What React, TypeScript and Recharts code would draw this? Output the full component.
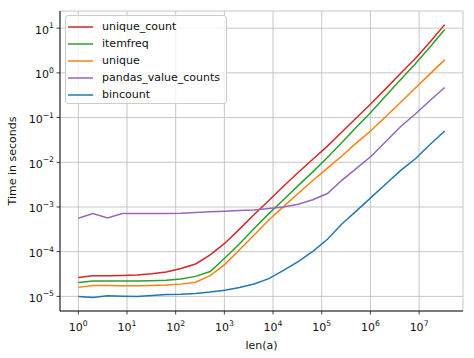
import {
  LineChart,
  Line,
  XAxis,
  YAxis,
  CartesianGrid,
  Legend,
} from "recharts";

// len(a) — powers of two
const lengths = [
  1, 2, 4, 8, 16, 32, 64, 128, 256, 512, 1024, 2048, 4096, 8192, 16384, 32768,
  65536, 131072, 262144, 524288, 1048576, 2097152, 4194304, 8388608, 16777216,
  33554432,
];

// time in seconds
const uniqueCount = [
  2.65e-5, 2.9e-5, 2.9e-5, 2.95e-5, 3.0e-5, 3.2e-5, 3.5e-5, 4.2e-5, 5.3e-5,
  8.5e-5, 1.55e-4, 3.2e-4, 6.8e-4, 1.4e-3, 2.9e-3, 5.9e-3, 0.0117, 0.023,
  0.048, 0.1, 0.21, 0.45, 0.98, 2.1, 4.9, 12.0,
];
const itemfreq = [
  2.05e-5, 2.2e-5, 2.2e-5, 2.2e-5, 2.2e-5, 2.25e-5, 2.3e-5, 2.45e-5, 2.8e-5,
  3.6e-5, 7.2e-5, 1.5e-4, 3.3e-4, 7.1e-4, 1.45e-3, 3.0e-3, 6.1e-3, 0.0128,
  0.028, 0.062, 0.135, 0.31, 0.71, 1.6, 3.8, 9.3,
];
const unique = [
  1.59e-5, 1.75e-5, 1.75e-5, 1.74e-5, 1.74e-5, 1.76e-5, 1.8e-5, 1.88e-5,
  2.08e-5, 2.9e-5, 5.2e-5, 1.1e-4, 2.35e-4, 5.1e-4, 1.02e-3, 2.0e-3, 3.9e-3,
  7.4e-3, 0.014, 0.0275, 0.052, 0.107, 0.22, 0.46, 0.95, 1.95,
];
const pandasValueCounts = [
  5.6e-4, 7.1e-4, 5.7e-4, 7.1e-4, 7.1e-4, 7.1e-4, 7.15e-4, 7.2e-4, 7.5e-4,
  7.8e-4, 8.0e-4, 8.3e-4, 8.6e-4, 9.2e-4, 1.0e-3, 1.15e-3, 1.45e-3, 2.0e-3,
  4.0e-3, 7.4e-3, 0.0138, 0.0295, 0.063, 0.12, 0.24, 0.47,
];
const bincount = [
  1.0e-5, 9.5e-6, 1.03e-5, 1.01e-5, 1.0e-5, 1.05e-5, 1.1e-5, 1.12e-5, 1.16e-5,
  1.25e-5, 1.37e-5, 1.58e-5, 1.9e-5, 2.5e-5, 3.8e-5, 6.0e-5, 1.02e-4, 1.9e-4,
  4.2e-4, 8.3e-4, 1.66e-3, 3.3e-3, 6.6e-3, 0.012, 0.025, 0.05,
];

const xMajor = [1, 10, 100, 1e3, 1e4, 1e5, 1e6, 1e7];
const xMinor = [
  0.5, 0.6, 0.7, 0.8, 0.9, 2, 3, 4, 5, 6, 7, 8, 9, 20, 30, 40, 50, 60, 70, 80,
  90, 200, 300, 400, 500, 600, 700, 800, 900, 2e3, 3e3, 4e3, 5e3, 6e3, 7e3,
  8e3, 9e3, 2e4, 3e4, 4e4, 5e4, 6e4, 7e4, 8e4, 9e4, 2e5, 3e5, 4e5, 5e5, 6e5,
  7e5, 8e5, 9e5, 2e6, 3e6, 4e6, 5e6, 6e6, 7e6, 8e6, 9e6, 2e7, 3e7, 4e7, 5e7,
  6e7, 7e7,
];
const yMajor = [1e-5, 1e-4, 1e-3, 1e-2, 1e-1, 1, 10];
const yMinor = [
  5e-6, 6e-6, 7e-6, 8e-6, 9e-6, 2e-5, 3e-5, 4e-5, 5e-5, 6e-5, 7e-5, 8e-5, 9e-5,
  2e-4, 3e-4, 4e-4, 5e-4, 6e-4, 7e-4, 8e-4, 9e-4, 2e-3, 3e-3, 4e-3, 5e-3, 6e-3,
  7e-3, 8e-3, 9e-3, 0.02, 0.03, 0.04, 0.05, 0.06, 0.07, 0.08, 0.09, 0.2, 0.3,
  0.4, 0.5, 0.6, 0.7, 0.8, 0.9, 2, 3, 4, 5, 6, 7, 8, 9, 20,
];

const xDomain = [0.4205, 7.98e7];
const yDomain = [4.71e-6, 24.2];

const series = [
  { key: "unique_count", values: uniqueCount, color: "#d62728" },
  { key: "itemfreq", values: itemfreq, color: "#2ca02c" },
  { key: "unique", values: unique, color: "#ff7f0e" },
  { key: "pandas_value_counts", values: pandasValueCounts, color: "#9467bd" },
  { key: "bincount", values: bincount, color: "#1f77b4" },
];
const seriesOrder = series.map((s) => s.key);

const data = lengths.map((n, i) => {
  const row: Record<string, number> = { n };
  series.forEach((s) => (row[s.key] = s.values[i]));
  return row;
});

const FONT = "DejaVu Sans, sans-serif";
const INK = "#111";

function expText(v: number) {
  const e = Math.round(Math.log10(v));
  return e < 0 ? "\u2212" + -e : String(e);
}

function XTick(props: any) {
  const { x, y, payload } = props;
  return (
    <g>
      <line x1={x} x2={x} y1={y} y2={y + 3.5} stroke={INK} strokeWidth={0.8} />
      <text x={x} y={y + 20} textAnchor="middle" fontSize={11} fontFamily={FONT} fill={INK}>
        <tspan>10</tspan>
        <tspan dy={-5.5} fontSize={7.7}>{expText(payload.value)}</tspan>
      </text>
    </g>
  );
}

function YTick(props: any) {
  const { x, y, payload } = props;
  return (
    <g>
      <line x1={x} x2={x - 3.5} y1={y} y2={y} stroke={INK} strokeWidth={0.8} />
      <text x={x - 6} y={y + 5.5} textAnchor="end" fontSize={11} fontFamily={FONT} fill={INK}>
        <tspan>10</tspan>
        <tspan dy={-5.5} fontSize={7.7}>{expText(payload.value)}</tspan>
      </text>
    </g>
  );
}

function LegendBox(props: any) {
  const items = [...(props.payload || [])].sort(
    (a: any, b: any) => seriesOrder.indexOf(a.value) - seriesOrder.indexOf(b.value)
  );
  return (
    <div
      style={{
        boxSizing: "border-box",
        width: 162,
        height: 89,
        padding: "2px 0 0 2px",
        border: "1px solid #cccccc",
        borderRadius: 3,
        background: "rgba(255,255,255,0.8)",
        fontFamily: FONT,
        fontSize: 11,
        color: INK,
        lineHeight: "17px",
      }}
    >
      {items.map((p: any) => (
        <div key={p.value} style={{ display: "flex", alignItems: "center", height: 17.1 }}>
          <svg width={25} height={4} style={{ marginRight: 9 }}>
            <line x1={0} x2={25} y1={2} y2={2} stroke={p.color} strokeWidth={1.5} />
          </svg>
          <span>{p.value}</span>
        </div>
      ))}
    </div>
  );
}

export default function App() {
  return (
    <div style={{ position: "absolute", left: 0, top: 0, width: 474, height: 358, background: "#fff" }}>
      <LineChart
        width={474}
        height={358}
        data={data}
        margin={{ top: 11, right: 11, bottom: 0, left: 0 }}
      >
        <CartesianGrid xAxisId="major" yAxisId="major" stroke="#c0c0c0" strokeWidth={0.9} />
        <XAxis
          xAxisId="minor"
          dataKey="n"
          type="number"
          scale="log"
          domain={xDomain}
          allowDataOverflow
          ticks={xMinor}
          interval={0}
          tick={false}
          tickSize={2}
          tickLine={{ stroke: INK, strokeWidth: 0.6 }}
          axisLine={false}
          height={0}
        />
        <XAxis
          xAxisId="major"
          dataKey="n"
          type="number"
          scale="log"
          domain={xDomain}
          allowDataOverflow
          ticks={xMajor}
          interval={0}
          tick={<XTick />}
          tickLine={false}
          tickSize={0}
          tickMargin={0}
          axisLine={{ stroke: INK, strokeWidth: 1 }}
          height={47}
          label={{ value: "len(a)", position: "insideBottom", offset: 9.5, fontSize: 11, fontFamily: FONT, fill: INK }}
        />
        <XAxis
          xAxisId="top"
          orientation="top"
          dataKey="n"
          type="number"
          scale="log"
          domain={xDomain}
          allowDataOverflow
          tick={false}
          tickLine={false}
          axisLine={{ stroke: INK, strokeWidth: 1 }}
          height={0}
        />
        <YAxis
          yAxisId="minor"
          type="number"
          scale="log"
          domain={yDomain}
          allowDataOverflow
          ticks={yMinor}
          interval={0}
          tick={false}
          tickSize={2}
          tickLine={{ stroke: INK, strokeWidth: 0.6 }}
          axisLine={false}
          width={0}
        />
        <YAxis
          yAxisId="major"
          type="number"
          scale="log"
          domain={yDomain}
          allowDataOverflow
          ticks={yMajor}
          interval={0}
          tick={<YTick />}
          tickLine={false}
          tickSize={0}
          tickMargin={0}
          axisLine={{ stroke: INK, strokeWidth: 1 }}
          width={60}
          label={{
            value: "Time in seconds",
            angle: -90,
            position: "insideLeft",
            offset: 12.5,
            fontSize: 11,
            fontFamily: FONT,
            fill: INK,
            style: { textAnchor: "middle" },
          }}
        />
        <YAxis
          yAxisId="right"
          orientation="right"
          type="number"
          scale="log"
          domain={yDomain}
          allowDataOverflow
          tick={false}
          tickLine={false}
          axisLine={{ stroke: INK, strokeWidth: 1 }}
          width={0}
        />
        <Legend
          layout="vertical"
          align="center"
          verticalAlign="middle"
          wrapperStyle={{ left: 65, top: 15, width: 162 }}
          content={<LegendBox />}
        />
        {series.map((s) => (
          <Line
            key={s.key}
            xAxisId="major"
            yAxisId="major"
            dataKey={s.key}
            name={s.key}
            stroke={s.color}
            strokeWidth={1.5}
            dot={false}
            type="linear"
            isAnimationActive={false}
          />
        ))}
      </LineChart>
    </div>
  );
}
